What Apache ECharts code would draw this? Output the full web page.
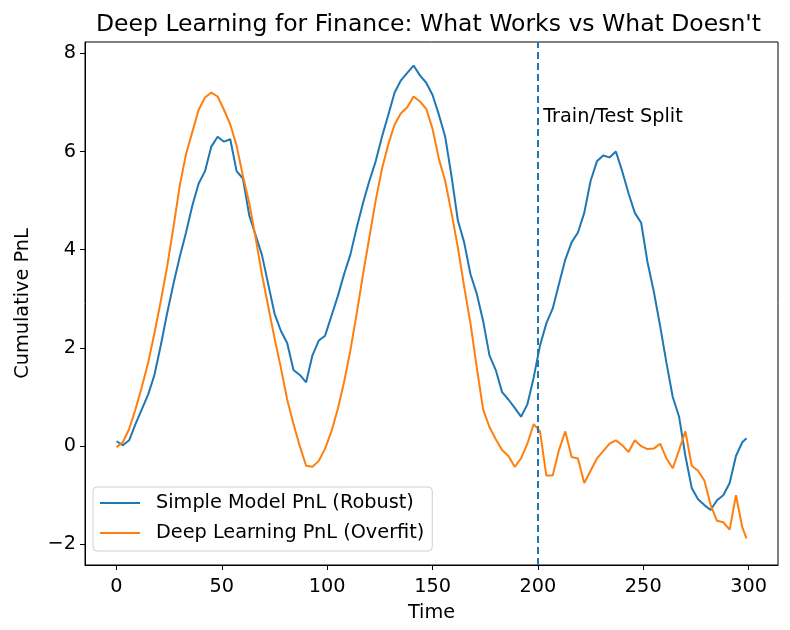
<!DOCTYPE html>
<html>
<head>
<meta charset="utf-8">
<script src="https://cdn.jsdelivr.net/npm/echarts@6/dist/echarts.min.js"></script>
<style>
  html, body { margin: 0; padding: 0; background: #fff; }
  #chart { width: 790px; height: 630px; }
</style>
</head>
<body>
<div id="chart"></div>
<script>
// time steps (read every 3 units)
var timeSteps = [0,3,6,9,12,15,18,21,24,27,30,33,36,39,42,45,48,51,54,57,60,63,66,69,72,75,78,81,84,87,90,93,96,99,
  102,105,108,111,114,117,120,123,126,129,132,135,138,141,144,147,150,153,156,159,162,165,168,171,174,177,180,183,186,189,192,195,198,
  201,204,207,210,213,216,219,222,225,228,231,234,237,240,243,246,249,252,255,258,261,264,267,270,273,276,279,282,285,288,291,294,297,299];

var simplePnl = [0.1,0.02,0.12,0.45,0.75,1.05,1.45,2.05,2.7,3.3,3.85,4.35,4.9,5.35,5.6,6.1,6.3,6.2,6.25,5.6,5.45,4.7,4.3,3.9,3.3,2.7,2.35,2.1,1.55,1.45,1.3,1.85,2.15,2.25,
  2.65,3.05,3.5,3.9,4.45,4.95,5.4,5.8,6.3,6.75,7.2,7.45,7.6,7.75,7.55,7.4,7.15,6.75,6.3,5.5,4.6,4.15,3.5,3.1,2.55,1.85,1.55,1.1,0.95,0.78,0.6,0.85,1.4,
  2.05,2.5,2.8,3.3,3.8,4.15,4.35,4.75,5.4,5.8,5.92,5.88,6.0,5.6,5.15,4.75,4.55,3.75,3.15,2.45,1.7,1.0,0.6,-0.2,-0.85,-1.08,-1.2,-1.3,-1.1,-1.0,-0.75,-0.2,0.08,0.16];

var deepPnl = [-0.02,0.08,0.35,0.75,1.2,1.7,2.3,2.95,3.65,4.45,5.3,5.95,6.4,6.85,7.1,7.2,7.12,6.85,6.55,6.12,5.5,4.95,4.25,3.5,2.85,2.2,1.6,0.95,0.45,0.0,-0.4,-0.42,-0.3,-0.05,
  0.3,0.75,1.3,1.95,2.7,3.5,4.25,5.0,5.65,6.15,6.55,6.78,6.9,7.12,7.02,6.87,6.46,5.85,5.4,4.75,4.05,3.25,2.5,1.6,0.75,0.39,0.14,-0.08,-0.2,-0.42,-0.25,0.05,0.45,
  0.3,-0.6,-0.6,-0.08,0.3,-0.22,-0.25,-0.75,-0.5,-0.25,-0.1,0.05,0.12,0.02,-0.12,0.12,0.0,-0.06,-0.05,0.05,-0.25,-0.45,-0.08,0.3,-0.4,-0.5,-0.7,-1.2,-1.52,-1.55,-1.7,-1.0,-1.65,-1.88];

var xTicks = [0, 50, 100, 150, 200, 250, 300];
var yTicks = [-2, 0, 2, 4, 6, 8];
var splitTime = 200;

function pairs(vals) {
  return timeSteps.map(function (t, i) { return [t, vals[i]]; });
}

var chart = echarts.init(document.getElementById('chart'));
var font = 'DejaVu Sans';
var fs = 19.3;

var option = {
  animation: false,
  backgroundColor: '#fff',
  textStyle: { fontFamily: font },
  grid: { left: 85, right: 12, top: 42, bottom: 65, show: true, borderColor: '#000', borderWidth: 1, backgroundColor: 'transparent' },
  graphic: [{
    type: 'text', left: 96, top: 13,
    style: { text: "Deep Learning for Finance: What Works vs What Doesn't", font: '23.5px "DejaVu Sans"', fill: '#000' }
  }],
  legend: {
    orient: 'vertical', left: 93, top: 487,
    padding: [6, 8, 8, 7], itemGap: 10,
    itemWidth: 40, itemHeight: 2, icon: 'rect',
    borderColor: '#d0d0d0', borderWidth: 1, borderRadius: 4,
    backgroundColor: 'rgba(255,255,255,0.8)',
    textStyle: { fontFamily: font, fontSize: fs, color: '#000', lineHeight: 20, padding: [0, 0, 0, 11] },
    data: ['Simple Model PnL (Robust)', 'Deep Learning PnL (Overfit)']
  },
  xAxis: {
    type: 'value', min: -14.95, max: 313.95,
    name: 'Time', nameLocation: 'middle', nameGap: 38,
    nameTextStyle: { fontSize: fs, color: '#000', fontFamily: font },
    axisLine: { show: true, onZero: false, lineStyle: { color: '#000', width: 1 } },
    axisTick: { show: true, length: 5, lineStyle: { color: '#000' }, customValues: xTicks },
    axisLabel: { fontSize: fs, color: '#000', margin: 12, customValues: xTicks },
    splitLine: { show: false }
  },
  yAxis: {
    type: 'value', min: -2.42, max: 8.23,
    name: 'Cumulative PnL', nameLocation: 'middle', nameGap: 53, nameRotate: 90,
    nameTextStyle: { fontSize: fs, color: '#000', fontFamily: font },
    axisLine: { show: true, onZero: false, lineStyle: { color: '#000', width: 1 } },
    axisTick: { show: true, length: 5, lineStyle: { color: '#000' }, customValues: yTicks },
    axisLabel: {
      fontSize: fs, color: '#000', margin: 9, customValues: yTicks,
      formatter: function (v) { return v < 0 ? '\u2212' + Math.abs(v) : String(v); }
    },
    splitLine: { show: false }
  },
  series: [
    {
      name: 'Simple Model PnL (Robust)', type: 'line', data: pairs(simplePnl),
      showSymbol: false, symbol: 'none', color: '#1f77b4',
      lineStyle: { width: 2, color: '#1f77b4' },
      markLine: {
        silent: true, symbol: 'none', label: { show: false },
        lineStyle: { color: '#1f77b4', type: [7, 4], width: 2 },
        data: [{ xAxis: splitTime }]
      },
      markPoint: {
        silent: true, symbol: 'circle', symbolSize: 0,
        label: { show: true, position: 'right', distance: 0, formatter: 'Train/Test Split', color: '#000', fontSize: fs, fontFamily: font },
        data: [{ coord: [splitTime + 2.5, 6.7] }]
      }
    },
    {
      name: 'Deep Learning PnL (Overfit)', type: 'line', data: pairs(deepPnl),
      showSymbol: false, symbol: 'none', color: '#ff7f0e',
      lineStyle: { width: 2, color: '#ff7f0e' }
    }
  ]
};
chart.setOption(option);
</script>
</body>
</html>
